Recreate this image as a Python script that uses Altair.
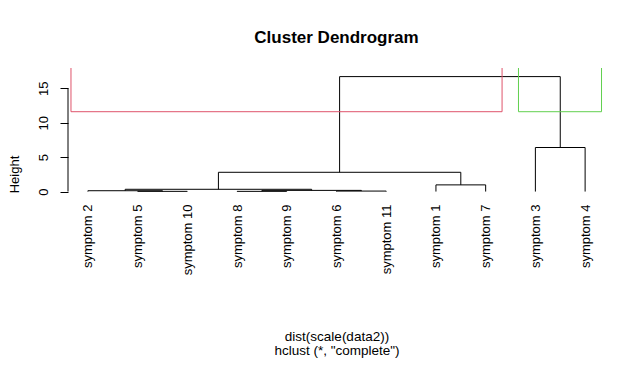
import json
import altair as alt
import pandas as pd

# ---- data ----
leaf_labels = ["symptom 2", "symptom 5", "symptom 10", "symptom 8", "symptom 9",
               "symptom 6", "symptom 11", "symptom 1", "symptom 7", "symptom 3", "symptom 4"]
# hclust-style merges: negative = leaf (position in leaf_labels, 1-based), positive = earlier merge
merge_left = [-2, -4, -6, -1, 2, 4, -8, 6, -10, 8]
merge_right = [-3, -5, -7, 1, 3, 5, -9, 7, -11, 9]
merge_height = [0.03, 0.03, 0.07, 0.12, 0.17, 0.33, 0.97, 2.8, 6.4, 16.7]

cut_height = 11.6
cluster_left = [0.66, 9.66]
cluster_right = [9.33, 11.33]
cluster_color = ["#DF536B", "#61D04F"]

y_ticks = [0, 5, 10, 15]
x_domain = [0.6, 11.4]
y_domain = [-0.5, 17.95]

FONT = "Liberation Sans"

# ---- build dendrogram segments from the merge structure ----
node_x, node_h = {}, {}
def pos(ref):
    if ref < 0:
        return float(-ref), 0.0
    return node_x[ref], node_h[ref]

segs = []
for i, (a, b, h) in enumerate(zip(merge_left, merge_right, merge_height), start=1):
    xa, ha = pos(a)
    xb, hb = pos(b)
    segs.append(dict(x=xa, x2=xb, y=h, y2=h, c="black"))
    segs.append(dict(x=xa, x2=xa, y=ha, y2=h, c="black"))
    segs.append(dict(x=xb, x2=xb, y=hb, y2=h, c="black"))
    node_x[i] = (xa + xb) / 2
    node_h[i] = h

for xl, xr, c in zip(cluster_left, cluster_right, cluster_color):
    segs.append(dict(x=xl, x2=xr, y=cut_height, y2=cut_height, c=c))
    segs.append(dict(x=xl, x2=xl, y=cut_height, y2=y_domain[1], c=c))
    segs.append(dict(x=xr, x2=xr, y=cut_height, y2=y_domain[1], c=c))
seg_df = pd.DataFrame(segs)

axis_df = pd.DataFrame({"y": [min(y_ticks)], "y2": [max(y_ticks)]})

xscale = alt.Scale(domain=x_domain, nice=False, zero=False)
yscale = alt.Scale(domain=y_domain, nice=False, zero=False)

x_axis = alt.Axis(
    values=list(range(1, len(leaf_labels) + 1)),
    labelExpr=f"{json.dumps(leaf_labels)}[datum.value - 1]",
    labelAngle=270, labelAlign="right", labelBaseline="middle", labelPadding=9,
    labelFlush=False, labelOverlap=False, labelFont=FONT, labelFontSize=13, labelColor="black",
    ticks=False, domain=False, grid=False,
    title=["dist(scale(data2))", 'hclust (*, "complete")'],
    titleFont=FONT, titleFontSize=13.5, titleFontWeight="normal", titleColor="black",
    titleBaseline="top", titleY=134, titleLineHeight=14,
)
y_axis = alt.Axis(
    values=y_ticks, labelAngle=270, labelAlign="center", labelBaseline="alphabetic",
    labelPadding=13, tickSize=8, tickColor="black", domain=False, grid=False,
    labelFont=FONT, labelFontSize=13, labelColor="black",
    title="Height", titleAngle=270, titleX=-54, titleY=106, titleAlign="center",
    titleBaseline="middle", titleFont=FONT, titleFontSize=13, titleFontWeight="normal",
    titleColor="black",
)

dend = alt.Chart(seg_df).mark_rule(strokeWidth=1).encode(
    x=alt.X("x:Q", scale=xscale, axis=x_axis),
    x2="x2:Q",
    y=alt.Y("y:Q", scale=yscale, axis=y_axis),
    y2="y2:Q",
    color=alt.Color("c:N", scale=None, legend=None),
)

axis_line = alt.Chart(axis_df).mark_rule(color="black", strokeWidth=1).encode(
    x=alt.value(0),
    y=alt.Y("y:Q", scale=yscale, axis=y_axis),
    y2="y2:Q",
)

chart = alt.layer(dend, axis_line).properties(
    width=537, height=127,
    padding={"left": 60, "top": 60, "right": 27, "bottom": 163},
    autosize=alt.AutoSizeParams(type="none"),
    background="white",
    title=alt.TitleParams("Cluster Dendrogram", font=FONT, fontSize=17, fontWeight="bold",
                          color="black", anchor="middle", baseline="alphabetic", offset=8),
).configure_view(stroke=None)

chart.save("out.html", embed_options={"renderer": "svg", "actions": False})
